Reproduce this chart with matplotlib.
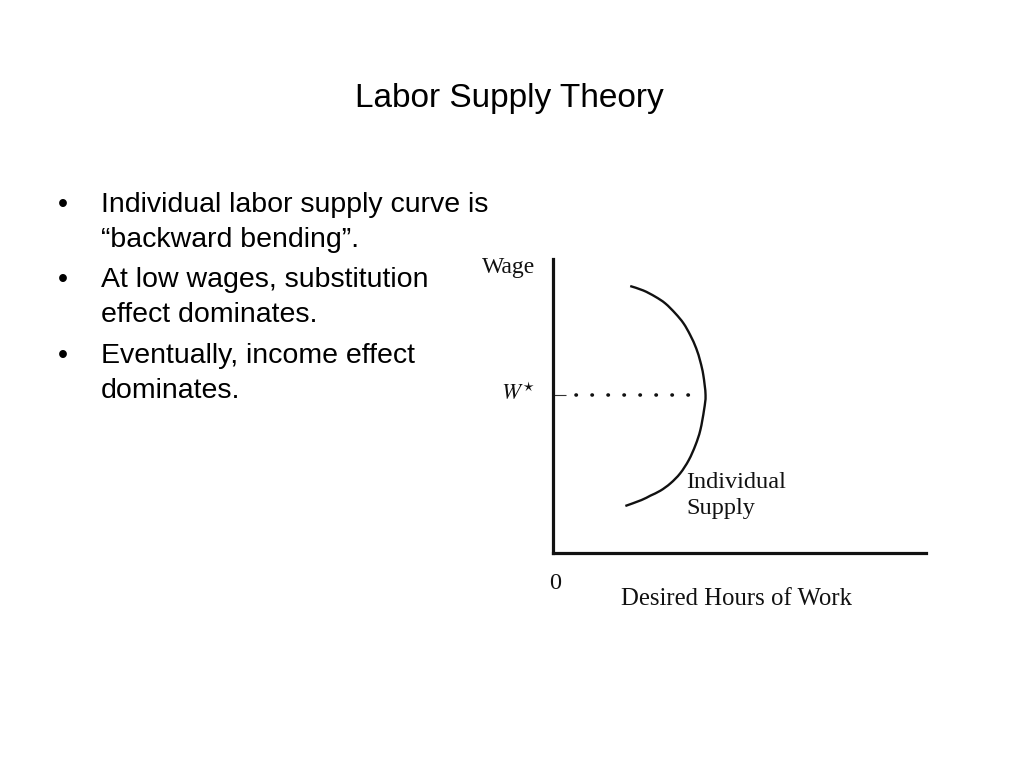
import matplotlib
matplotlib.use("Agg")
import matplotlib.pyplot as plt
from matplotlib.path import Path
from matplotlib.patches import PathPatch

# ---------------- data ----------------
title = "Labor Supply Theory"
bullets = [
    ["Individual labor supply curve is", "\u201cbackward bending\u201d."],
    ["At low wages, substitution", "effect dominates."],
    ["Eventually, income effect", "dominates."],
]
# individual supply curve (hours, wage)
supply_hours = [2.07, 2.42, 2.74, 3.01, 3.28, 3.50, 3.68, 3.84, 3.95, 4.03,
                4.09, 4.05, 3.95, 3.82, 3.64, 3.41, 3.15, 2.88, 2.61, 2.37,
                1.94]
supply_wage = [9.08, 8.93, 8.72, 8.49, 8.15, 7.81, 7.41, 6.96, 6.51, 6.05,
               5.37, 4.87, 4.18, 3.67, 3.16, 2.71, 2.37, 2.12, 1.95, 1.80,
               1.60]
w_star = 5.39
w_star_dots = [0.62, 3.72]     # extent of dotted line at W*
x_label = "Desired Hours of Work"
y_label = "Wage"
curve_label = ["Individual", "Supply"]
origin_label = "0"

# ---------------- figure ----------------
W, H = 1024, 768
fig = plt.figure(figsize=(W / 100, H / 100), dpi=100)
fig.patch.set_facecolor("white")

def fx(px):
    return px / W

def fy(py):
    return 1 - py / H

sans = ["Liberation Sans", "DejaVu Sans"]
serif = ["Liberation Serif", "DejaVu Serif"]

# title
fig.text(fx(509), fy(107), title, ha="center", va="baseline",
         fontsize=24, family=sans, color="black")

# bullets
baselines = [[211.7, 246.7], [286.7, 321.7], [362.7, 398]]
for lines, bls in zip(bullets, baselines):
    fig.text(fx(58), fy(bls[0]), "\u2022", ha="left", va="baseline",
             fontsize=20.5, family=sans, color="black")
    for line, bl in zip(lines, bls):
        fig.text(fx(101), fy(bl), line, ha="left", va="baseline",
                 fontsize=20.5, family=sans, color="black")

# diagram axes
ax = fig.add_axes([fx(553), fy(553), (926 - 553) / W, (553 - 259) / H])
ax.set_xlim(0, 10)
ax.set_ylim(0, 10)
ax.patch.set_alpha(0)
for s in ["top", "right"]:
    ax.spines[s].set_visible(False)
for s in ["left", "bottom"]:
    ax.spines[s].set_linewidth(2.3)
    ax.spines[s].set_color("#111111")
    ax.spines[s].set_capstyle("projecting")
ax.set_xticks([])
ax.set_yticks([w_star])
ax.set_yticklabels([""])
ax.tick_params(axis="y", direction="in", length=9, width=0.8, color="#333333")

# smooth curve through the read points (Catmull-Rom as cubic Bezier path)
pts = list(zip(supply_hours, supply_wage))
verts = [pts[0]]
codes = [Path.MOVETO]
n = len(pts)
for i in range(n - 1):
    p0 = pts[i - 1] if i > 0 else pts[i]
    p1 = pts[i]
    p2 = pts[i + 1]
    p3 = pts[i + 2] if i + 2 < n else pts[i + 1]
    c1 = (p1[0] + (p2[0] - p0[0]) / 6, p1[1] + (p2[1] - p0[1]) / 6)
    c2 = (p2[0] - (p3[0] - p1[0]) / 6, p2[1] - (p3[1] - p1[1]) / 6)
    verts += [c1, c2, p2]
    codes += [Path.CURVE4] * 3
ax.add_patch(PathPatch(Path(verts, codes), facecolor="none",
                       edgecolor="#111111", lw=1.7, capstyle="butt",
                       joinstyle="round"))

ax.plot(w_star_dots, [w_star, w_star], color="#111111", lw=2.6,
        linestyle=(0, (0.1, 4.33)), dash_capstyle="round")

# diagram labels
fig.text(fx(482), fy(273), y_label, ha="left", va="baseline",
         fontsize=17, family=serif, color="#111111")
fig.text(fx(535), fy(394.5), r"$W^{\star}$", ha="right", va="center",
         fontsize=16.5, family=serif, color="#111111",
         math_fontfamily="stix")
fig.text(fx(686), fy(488), curve_label[0], ha="left", va="baseline",
         fontsize=17.5, family=serif, color="#111111")
fig.text(fx(686), fy(514), curve_label[1], ha="left", va="baseline",
         fontsize=17.5, family=serif, color="#111111")
fig.text(fx(555), fy(589), origin_label, ha="center", va="baseline",
         fontsize=17.5, family=serif, color="#111111")
fig.text(fx(621), fy(605), x_label, ha="left", va="baseline",
         fontsize=17.8, family=serif, color="#111111")

fig.savefig("out.png", dpi=100, facecolor="white")
